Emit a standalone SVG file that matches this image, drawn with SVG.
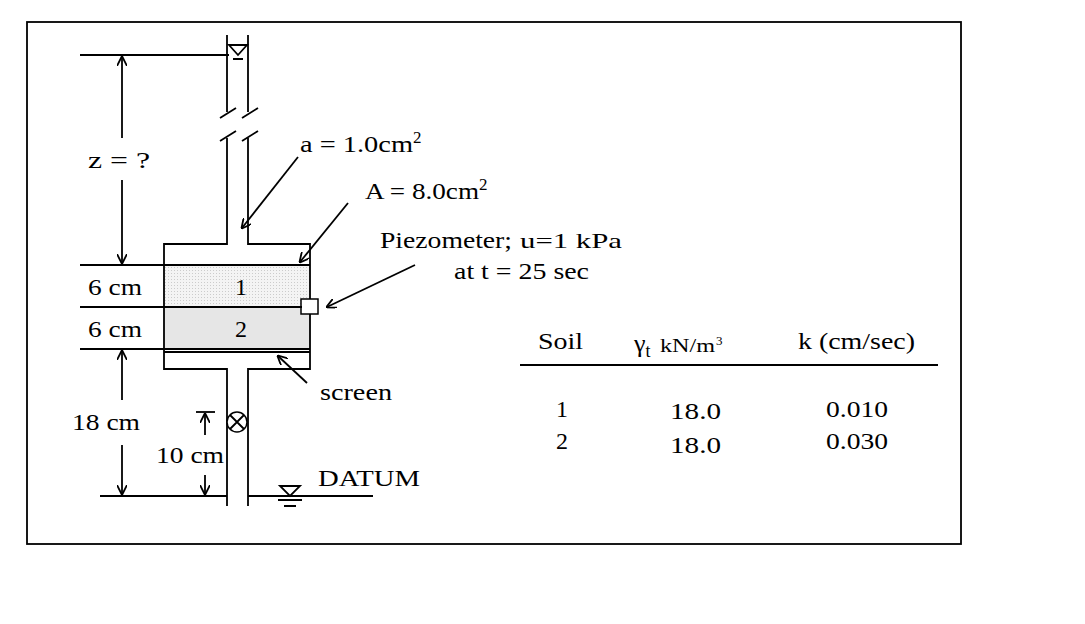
<svg xmlns="http://www.w3.org/2000/svg" width="1085" height="624" viewBox="0 0 1085 624">
<defs>
<marker id="ar" viewBox="0 0 10 10" refX="9" refY="5" markerWidth="10" markerHeight="10" markerUnits="userSpaceOnUse" orient="auto"><path d="M0,0 L10,5 L0,10" fill="none" stroke="#000" stroke-width="1.5"/></marker>
<pattern id="dots" width="3" height="3" patternUnits="userSpaceOnUse"><rect width="3" height="3" fill="#f4f4f4"/><rect width="1" height="1" fill="#ccc"/></pattern>
</defs>
<style>
text{font-family:"Liberation Serif",serif;font-size:24px;fill:#000}
.s{font-size:17px}
line,path,rect.o{stroke:#000;stroke-width:1.8;fill:none}
</style>
<rect width="1085" height="624" fill="#fff"/>
<rect class="o" x="27" y="22" width="934" height="522" stroke-width="1.5"/>
<g id="tank">
<rect x="164" y="265" width="146" height="42" fill="url(#dots)"/>
<rect x="164" y="307" width="146" height="42" fill="#e6e6e6"/>
<path d="M227,35 V112 M248,35 V112 M227,138 V244 H164 V369 H227 V506 M248,138 V244 H310 V369 H248 V506"/>
<line x1="164" y1="352" x2="310" y2="352"/>
<path d="M220,118 L236,108 M242,118 L258,108 M220,141 L236,131 M242,141 L258,131"/>
<path d="M229,45 H247 L238,55 Z M233,59 H243"/>
<rect x="301" y="299" width="17" height="15" fill="#fff" stroke="#000" stroke-width="1.5"/>
<circle cx="237" cy="422" r="10" fill="#fff" stroke="#000" stroke-width="1.5"/>
<path d="M230,415 L244,429 M244,415 L230,429" stroke-width="1.5"/>
</g>
<g id="dims">
<line x1="80" y1="55" x2="229" y2="55"/>
<line x1="80" y1="265" x2="310" y2="265"/>
<line x1="80" y1="307" x2="302" y2="307"/>
<line x1="80" y1="349" x2="310" y2="349"/>
<line x1="100" y1="496" x2="227" y2="496"/>
<line x1="248" y1="496" x2="373" y2="496"/>
<path d="M280,486 H300 L290,496 Z M278,500 H302 M284,506 H296" stroke-width="1.5"/>
<line x1="122" y1="138" x2="122" y2="57" marker-end="url(#ar)"/>
<line x1="122" y1="180" x2="122" y2="263" marker-end="url(#ar)"/>
<line x1="122" y1="400" x2="122" y2="351" marker-end="url(#ar)"/>
<line x1="122" y1="445" x2="122" y2="494" marker-end="url(#ar)"/>
<line x1="196" y1="412" x2="215" y2="412" stroke-width="1.5"/>
<line x1="205" y1="435" x2="205" y2="414" marker-end="url(#ar)"/>
<line x1="205" y1="475" x2="205" y2="494" marker-end="url(#ar)"/>
</g>
<g id="connectors">
<line x1="298" y1="157" x2="242" y2="228" marker-end="url(#ar)"/>
<line x1="348" y1="203" x2="300" y2="262" marker-end="url(#ar)"/>
<line x1="415" y1="265" x2="327" y2="307" marker-end="url(#ar)"/>
<line x1="307" y1="383" x2="278" y2="356" marker-end="url(#ar)"/>
</g>
<g id="labels">
<text x="88" y="168" textLength="62" lengthAdjust="spacingAndGlyphs">z = ?</text>
<text x="300" y="152" textLength="113" lengthAdjust="spacingAndGlyphs">a = 1.0cm</text><text x="413" y="143" class="s">2</text>
<text x="365" y="199" textLength="114" lengthAdjust="spacingAndGlyphs">A = 8.0cm</text><text x="479" y="190" class="s">2</text>
<text x="380" y="248" textLength="132" lengthAdjust="spacingAndGlyphs">Piezometer;</text>
<text x="520" y="248" style="font-size:22px" textLength="102" lengthAdjust="spacingAndGlyphs">u=1 kPa</text>
<text x="454" y="279" textLength="135" lengthAdjust="spacingAndGlyphs">at t = 25 sec</text>
<text x="88" y="295" textLength="54" lengthAdjust="spacingAndGlyphs">6 cm</text>
<text x="88" y="337" textLength="54" lengthAdjust="spacingAndGlyphs">6 cm</text>
<text x="241" y="295" text-anchor="middle">1</text>
<text x="241" y="337" text-anchor="middle">2</text>
<text x="320" y="400" textLength="72" lengthAdjust="spacingAndGlyphs">screen</text>
<text x="72" y="430" textLength="68" lengthAdjust="spacingAndGlyphs">18 cm</text>
<text x="156" y="463" textLength="68" lengthAdjust="spacingAndGlyphs">10 cm</text>
<text x="318" y="486" textLength="102" lengthAdjust="spacingAndGlyphs">DATUM</text>
</g>
<g id="table">
<text x="538" y="349" textLength="45" lengthAdjust="spacingAndGlyphs">Soil</text>
<text x="634" y="352" style="font-size:26px">γ<tspan style="font-size:18px" dy="5">t</tspan></text>
<text x="660" y="352" style="font-size:19px" textLength="55" lengthAdjust="spacingAndGlyphs">kN/m</text>
<text x="716" y="345" style="font-size:13px">3</text>
<text x="798" y="349" textLength="117" lengthAdjust="spacingAndGlyphs">k (cm/sec)</text>
<line x1="520" y1="365" x2="938" y2="365" stroke-width="1.5"/>
<text x="556" y="417">1</text>
<text x="556" y="449">2</text>
<text x="670" y="419" textLength="51" lengthAdjust="spacingAndGlyphs">18.0</text>
<text x="670" y="453" textLength="51" lengthAdjust="spacingAndGlyphs">18.0</text>
<text x="826" y="417" textLength="62" lengthAdjust="spacingAndGlyphs">0.010</text>
<text x="826" y="449" textLength="62" lengthAdjust="spacingAndGlyphs">0.030</text>
</g>
</svg>
